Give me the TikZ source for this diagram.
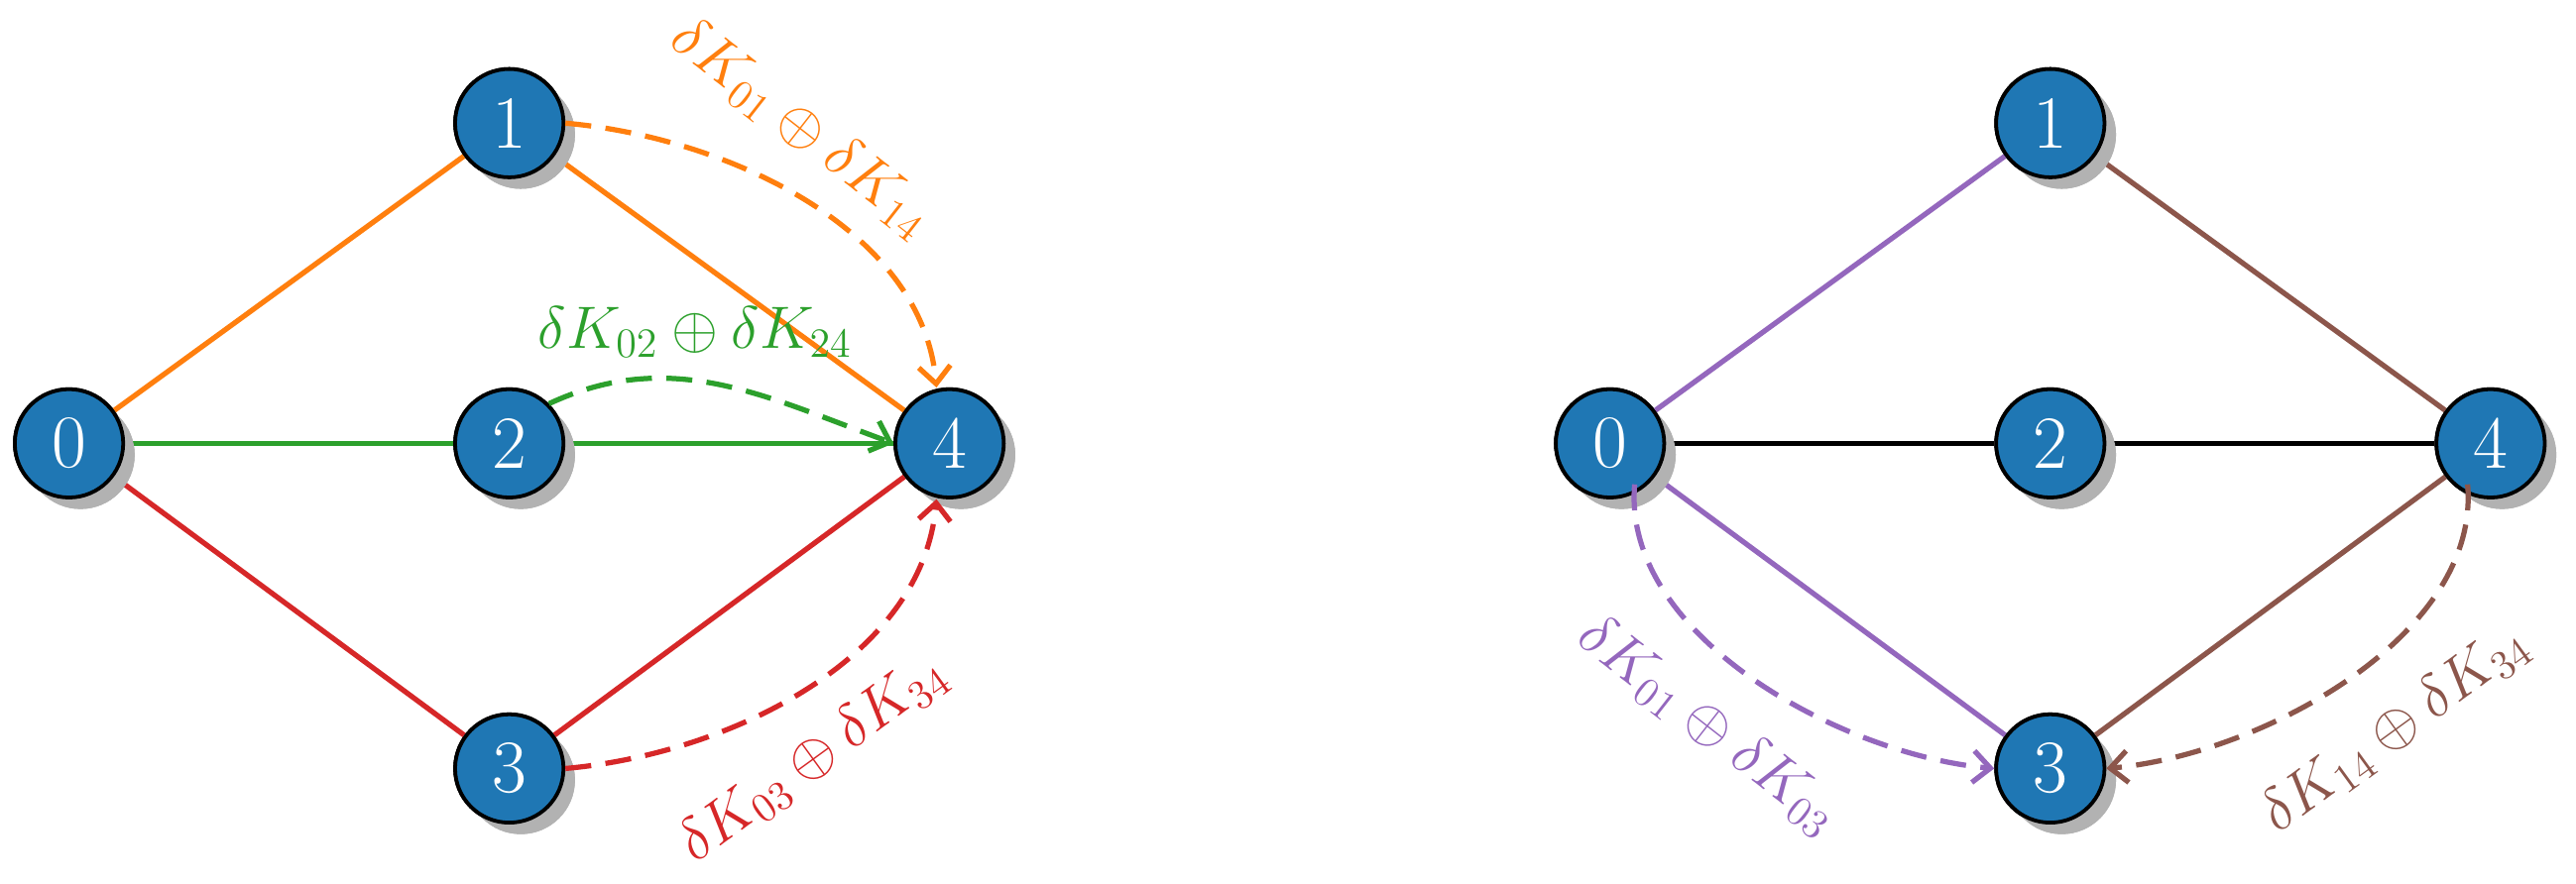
\documentclass[tikz,border=0pt]{standalone}
\usetikzlibrary{arrows.meta,shadows}
\definecolor{tblue}{HTML}{1F77B4}
\definecolor{torange}{HTML}{FF7F0E}
\definecolor{tgreen}{HTML}{2CA02C}
\definecolor{tred}{HTML}{D62728}
\definecolor{tpurple}{HTML}{9467BD}
\definecolor{tbrown}{HTML}{8C564B}
\begin{document}
\begin{tikzpicture}[x=0.02cm,y=-0.02cm,
  v/.style={circle,draw=black,line width=1.3pt,fill=tblue,minimum size=1.32cm,inner sep=0pt,
    text=white,font=\fontsize{26}{28}\selectfont,
    drop shadow={shadow xshift=0.14cm,shadow yshift=-0.14cm,fill=black!30,opacity=1}},
  e/.style={line width=1.8pt},
  da/.style={line width=1.8pt,dashed,dash pattern=on 9pt off 5pt,-{Straight Barb[length=6pt,width=11pt,line width=1.8pt]}},
  lab/.style={font=\fontsize{20}{22}\selectfont}]
\useasboundingbox (0,0) rectangle (1568,538);
% left
\node[v] (a0) at (42,270) {0};
\node[v] (a1) at (310,75) {1};
\node[v] (a2) at (310,270) {2};
\node[v] (a3) at (310,468) {3};
\node[v] (a4) at (578,270) {4};
\draw[e,torange] (a0)--(a1) (a1)--(a4);
\draw[e,tgreen] (a0)--(a2) (a2)--(a4);
\draw[e,tred] (a0)--(a3) (a3)--(a4);
\node[v] at (42,270) {0};
\node[v] at (310,75) {1};
\node[v] at (310,270) {2};
\node[v] at (310,468) {3};
\node[v] at (578,270) {4};
\coordinate (oA) at (570,236);
\coordinate (rA) at (570,304);
\draw[da,torange] (a1.east) to[out=-5,in=95,looseness=0.9] (oA);
\draw[da,tgreen] (a2.north east) to[out=25,in=160] (a4.west);
\draw[da,tred] (a3.east) to[out=5,in=-95,looseness=0.9] (rA);
\node[lab,torange,rotate=-38] (l1) at (488,78) {$\delta K_{01}\oplus\delta K_{14}$};
\node[lab,tgreen] (l2) at (423,202) {$\delta K_{02}\oplus\delta K_{24}$};
\node[lab,tred,rotate=36] (l3) at (495,462) {$\delta K_{03}\oplus\delta K_{34}$};
% right
\node[v] (b0) at (980,270) {0};
\node[v] (b1) at (1248,75) {1};
\node[v] (b2) at (1248,270) {2};
\node[v] (b3) at (1248,468) {3};
\node[v] (b4) at (1516,270) {4};
\draw[e,tpurple] (b0)--(b1) (b0)--(b3);
\draw[e,tbrown] (b1)--(b4) (b3)--(b4);
\draw[e,black] (b0)--(b2) (b2)--(b4);
\node[v] at (980,270) {0};
\node[v] at (1248,75) {1};
\node[v] at (1248,270) {2};
\node[v] at (1248,468) {3};
\node[v] at (1516,270) {4};
\coordinate (pS) at (995,295);
\coordinate (bS) at (1502,295);
\draw[da,tpurple] (pS) to[out=-95,in=175,looseness=0.85] (b3.west);
\draw[da,tbrown] (bS) to[out=-85,in=5,looseness=0.85] (b3.east);
\node[lab,tpurple,rotate=-38] (l4) at (1040,442) {$\delta K_{01}\oplus\delta K_{03}$};
\node[lab,tbrown,rotate=36] (l5) at (1458,444) {$\delta K_{14}\oplus\delta K_{34}$};
\end{tikzpicture}
\end{document}
